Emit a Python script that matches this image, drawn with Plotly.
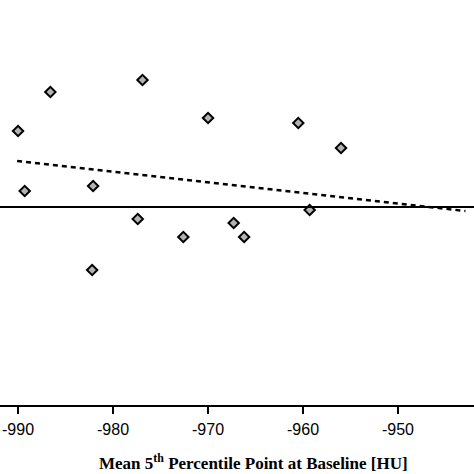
import plotly.graph_objects as go

# mean 5th percentile point at baseline [HU] vs. change (y axis not shown)
baseline_hu = [-990.0, -986.6, -976.9, -970.0, -989.3, -982.1, -977.4,
               -972.6, -967.3, -982.2, -966.2, -960.5, -956.0, -959.3]
change = [7.6, 11.5, 12.7, 8.9, 1.6, 2.1, -1.2,
          -3.0, -1.6, -6.3, -3.0, 8.4, 5.9, -0.3]

# regression line end points
trend_x = [-990.1, -942.9]
trend_y = [4.6, -0.4]

tick_vals = [-990, -980, -970, -960, -950]
tick_text = ["-990", "-980", "-970", "-960", "-950"]

x_title = "<b>Mean 5<sup>th</sup> Percentile Point at Baseline [HU]</b>"

fig = go.Figure()

fig.add_hline(y=0, line=dict(color="black", width=2))

fig.add_trace(
    go.Scatter(
        x=trend_x,
        y=trend_y,
        mode="lines",
        line=dict(color="black", width=2.5, dash="5px,4px"),
        showlegend=False,
    )
)

fig.add_trace(
    go.Scatter(
        x=baseline_hu,
        y=change,
        mode="markers",
        marker=dict(
            symbol="diamond",
            size=8,
            color="#b3b3b3",
            line=dict(color="black", width=2),
        ),
        showlegend=False,
    )
)

# axis title sits a bit right of the plot centre (original figure was cropped)
fig.add_annotation(
    text=x_title,
    xref="paper",
    yref="paper",
    x=0.534,
    y=0,
    xanchor="center",
    yanchor="middle",
    yshift=-57,
    showarrow=False,
    font=dict(family="Liberation Serif, Times New Roman", size=17, color="black"),
)

fig.update_layout(
    width=474,
    height=474,
    margin=dict(l=0, r=0, t=0, b=69),
    plot_bgcolor="white",
    paper_bgcolor="white",
    xaxis=dict(
        range=[-991.9, -942.0],
        tickvals=tick_vals,
        ticktext=tick_text,
        ticks="outside",
        ticklen=7,
        tickwidth=2,
        tickcolor="black",
        ticklabelstandoff=2,
        showline=True,
        linecolor="black",
        linewidth=2,
        showgrid=False,
        zeroline=False,
        tickfont=dict(family="Liberation Sans, Arial", size=16, color="black"),
    ),
    yaxis=dict(
        range=[-19.8, 20.7],
        visible=False,
    ),
)

fig.write_html(
    "out.html",
    config={"displayModeBar": False},
    post_script="document.body.style.margin='0';",
)
